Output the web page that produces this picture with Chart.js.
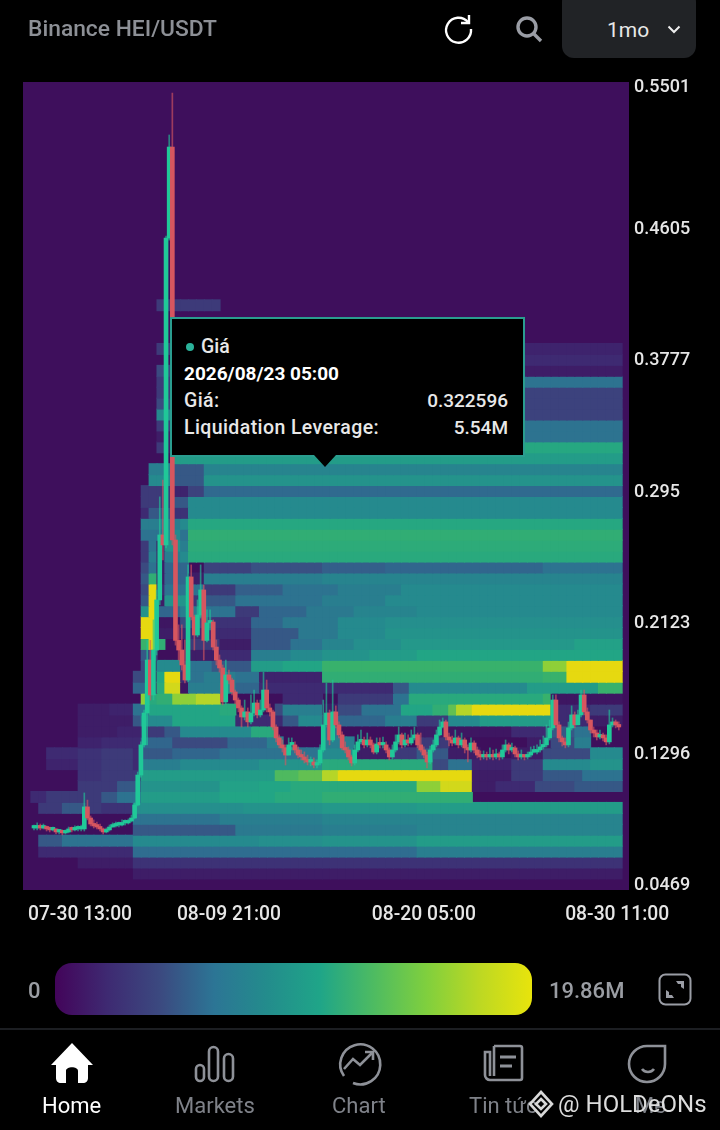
<!DOCTYPE html>
<html><head><meta charset="utf-8">
<script src="https://cdn.jsdelivr.net/npm/chart.js@4"></script>
<style>
html,body{margin:0;padding:0;background:#000;width:720px;height:1130px;overflow:hidden}
body{position:relative;font-family:Roboto,sans-serif}
canvas{position:absolute;left:0;top:0}
.t{position:absolute;white-space:nowrap;line-height:1}
svg{position:absolute;overflow:visible}
#tip{position:absolute;left:170px;top:317px;width:351px;height:136px;background:#000;border:2px solid #2a9d8f}
#tipArrow{position:absolute;left:314px;top:455px;width:0;height:0;border-left:11px solid transparent;border-right:11px solid transparent;border-top:12px solid #000}
</style></head><body>
<canvas id="c" width="720" height="1130"></canvas>

<div class="t" style="left:28px;top:18px;font-size:22.8px;font-weight:500;color:#8d9096">Binance HEI/USDT</div>
<svg style="left:444px;top:14px" width="30" height="30" fill="none" stroke="#fff" stroke-width="2.4"><path d="M24 8a12.5 12.5 0 1 0 3 7"/><path d="M25 1v8h-8"/></svg>
<svg style="left:514px;top:14px" width="30" height="30" fill="none" stroke="#9a9da5" stroke-width="3.4"><circle cx="13" cy="13" r="9"/><path d="M20 20l7 7"/></svg>
<div style="position:absolute;left:562px;top:-10px;width:134px;height:68px;background:#212326;border-radius:12px"></div>
<div class="t" style="left:607px;top:20px;font-size:21px;color:#e8e8e8">1mo</div>
<svg style="left:667px;top:25px" width="14" height="9" fill="none" stroke="#eee" stroke-width="2"><path d="M1.5 1.5L7 7l5.5-5.5"/></svg>

<div id="tip"></div>
<div id="tipArrow"></div>
<div style="position:absolute;left:186px;top:343px;width:8px;height:8px;border-radius:50%;background:#2bb39a"></div>
<div class="t" id="tS" style="left:201px;top:337px;font-size:19.5px;font-weight:500;color:#e8e8e8"></div>
<div class="t" id="tD" style="left:184px;top:364px;font-size:19px;font-weight:700;color:#fff"></div>
<div class="t" id="tL1" style="left:184px;top:391px;font-size:19.5px;letter-spacing:.4px;font-weight:500;color:#e8e8e8"></div>
<div class="t" id="tV1" style="right:212px;top:391px;font-size:19px;font-weight:500;color:#e8e8e8"></div>
<div class="t" id="tL2" style="left:184px;top:418px;font-size:19.5px;letter-spacing:.4px;font-weight:500;color:#e8e8e8"></div>
<div class="t" id="tV2" style="right:212px;top:418px;font-size:19px;font-weight:500;color:#e8e8e8"></div>

<div class="t" id="legMin" style="left:28px;top:980px;font-size:22px;font-weight:500;color:#9a9da3"></div>
<div id="legBar" style="position:absolute;left:55px;top:963px;width:477px;height:52px;border-radius:17px"></div>
<div class="t" id="legMax" style="left:549px;top:980px;font-size:22px;font-weight:500;color:#9a9da3"></div>
<svg style="left:658px;top:973px" width="34" height="33" fill="none" stroke="#9a9da5" stroke-width="2"><rect x="1.5" y="1.5" width="31" height="30" rx="6"/><path d="M18 8h8v8l-3-2v-3h-3zM16 25H8v-8l3 2v3h3z" fill="#9a9da5" stroke="none"/></svg>
<div style="position:absolute;left:0;top:1028px;width:720px;height:2px;background:#1c1e22"></div>

<svg style="left:51px;top:1042px" width="42" height="42"><path d="M21 1L0 23h5v13c0 3 2 5 5 5h5V29c0-5 12-5 12 0v12h5c3 0 5-2 5-5V23h5z" fill="#fff"/></svg>
<svg style="left:194px;top:1046px" width="44" height="38" fill="none" stroke="#8e9198" stroke-width="2.6"><rect x="2" y="19" width="8" height="16" rx="4"/><rect x="15" y="1" width="9" height="34" rx="4.5"/><rect x="30" y="8" width="9" height="27" rx="4.5"/></svg>
<svg style="left:338px;top:1042px" width="44" height="44" fill="none" stroke="#8e9198" stroke-width="2.6"><path d="M6 34a20 20 0 1 1 9 7"/><path d="M6 27l9-10 7 6 12-12"/><path d="M27 10h8v8"/></svg>
<svg style="left:483px;top:1043px" width="44" height="40" fill="none" stroke="#8e9198" stroke-width="2.6"><path d="M11 3h26a2 2 0 0 1 2 2v30a2 2 0 0 1-2 2H7a5 5 0 0 1-5-5V9h5v24"/><path d="M11 3v30"/><path d="M17 14h16M17 23h12" stroke-width="3"/></svg>
<svg style="left:627px;top:1044px" width="42" height="40" fill="none" stroke="#8e9198" stroke-width="2.6"><path d="M38 2H20A18 18 0 1 0 38 20z"/><path d="M15 25c3 4 9 4 12 0"/></svg>

<div class="t" style="left:42px;top:1095px;font-size:22px;color:#fff">Home</div>
<div class="t" style="left:175px;top:1095px;font-size:22px;color:#7f8289">Markets</div>
<div class="t" style="left:332px;top:1095px;font-size:22px;color:#7f8289">Chart</div>
<div class="t" style="left:469px;top:1095px;font-size:22px;color:#7f8289">Tin tức</div>
<div class="t" style="left:635px;top:1095px;font-size:22px;color:#7f8289">Me</div>
<svg style="left:528px;top:1090px" width="26" height="28" fill="none" stroke="#d8d8d8" stroke-width="2.6"><path d="M13 2l11 12-11 12L2 14zM13 9l5 5-5 5-5-5z"/></svg>
<div class="t" style="left:558px;top:1092px;font-size:24px;color:#dcdcdc">@ HOLDeONs</div>

<script>
// colour scale (millions of liquidation leverage)
const scaleMax = 19.86;
const barStops = ['#43045a','#3e2a72','#3b4a80','#2c7595','#238c8c','#1fa588','#4dbb62','#7fcf3e','#bcd823','#e8e40c'];
const heatLevels = [0,2,4,6.5,9,12,15,17,18.5,20];
const heatPalette = ['#3e0f5c','#3e2a72','#3b4a80','#2f6d90','#258a8e','#22a585','#38b16c','#8ecf38','#c8d820','#e6d910'];

// axis labels
const yTicks = [0.5501,0.4605,0.3777,0.295,0.2123,0.1296,0.0469];
const xTickHours = [0,248,496,742];
const xTickLabels = ['07-30 13:00','08-09 21:00','08-20 05:00','08-30 11:00'];

// heat bins
const priceFloor = 0.0425, priceStep = 0.00689;
const colStartHour = -14, colHours = 10.03, colCount = 76;

// liquidation heat: one list per price bin (lowest first); pairs of [start column, value in M]
const heatRows = [
[],
[14,1],
[7,1,14,2.5],
[2,2,14,6.5,50,8],
[2,5,5,7,14,9,30,9.5,38,10,50,11],
[14,5,27,7.5,38,8,50,8.5],
[14,7,25,8,38,8.5],
[2,3,5,5,8,3,10,2.5,14,9.5,28,10,38,10.5,50,11],
[1,2,3,3,10,5,12,7,15,11,25,12,32,13,38,14,57,0],
[7,3,12,5,15,10,25,11.5,30,12,34,13,50,17,53,19,57,1,60,2,65,4,70,5],
[7,2.5,10,3,15,11,32,15.5,35,16,38,18,40,20,57,1,62,3,66,5,71,7],
[3,1.5,7,2.5,10,3,14,2,15,8,20,9,30,10,38,13,52,4,54,7,57,1.5,62,3,66,9,72,10],
[3,2,7,2.5,10,3,14,2,15,5,19,6,25,7,38,9,42,1,47,3,50,5,54,1,58,0,62,1,66,4,72,9],
[7,1.5,10,2,15,6,19,4,26,6,31,8,33,0,38,8,42,0,50,3,54,0,64,1,67,4,70,8,72,0],
[7,1,12,1.5,15,3,18,5,20,9,29,13,32,0,38,7,40,0,50,1,54,0.5,62,2,67,5,70,7,72,0],
[7,1,14,5,15,9,19,12,27,2,33,5,35,9,38,2,40,6,46,8,50,3,54,9,58,11,67,2,72,1],
[7,1,11,1.5,14,7,16,12,25,13,27,0,32,4,33,8,38,1,40,4,43,7,48,12,52,14,54,16,55,18,57,20,67,2,72,3],
[15,17,16,13,17,14,19,17,22,18,25,0,33,2,38,0,40,3,47,7,49,13,66,15,67,0.5],
[14,6,16,1,17,13,18,19,20,0.5,21,8,25,9,27,6,30,2,38,2,47,5,49,9,64,11,73,15],
[14,4,16,0,17,12,18,20,20,2,21,7,23,8,27,7,30,1.5,38,14,66,15,69,20],
[15,4,16,0,17,9,20,3,21,7,24,5,29,11,33,12,38,15,66,17,69,20],
[15,5,16,4,17,0,20,1,25,2,29,8,34,9,38,10,44,11,50,12],
[15,15,16,20,17,14,18,0,21,3,25,1,29,5,34,7,38,8.5,42,9.5,48,10.5,70,11.5],
[15,20,17,1,20,2,25,2,29,5,35,7.5,40,9,46,10],
[15,20,17,0.5,20,4,24,2.5,29,6,33,7.5,40,9,46,9.5],
[15,10,16,20,17,6,20,8,23,7,27,3,30,6,36,7.5,42,8.5,50,9],
[15,5,16,20,17,1,18,10,21,3,23,5,27,7,38,8,46,9],
[15,4,16,20,17,2,18,7,23,3,27,5.5,33,7,40,8,48,9],
[15,5,16,14,17,1,18,6,21,1,23,8,38,8.5],
[15,4,16,7,17,1,18,6,21,0,23,3.5,29,4.5,38,5.5,46,6,66,7],
[15,3,16,8,17,1,18,8,20,9,21,13],
[15,3,16,7,17,0.5,18,10,20,8,21,13.5],
[15,7,18,9,20,7,21,14],
[15,8,20,9,21,12.5],
[15,2,16,5,19,2.5,21,9],
[15,3,19,5,21,9],
[15,3,19,1.5,21,3.5,23,6.3],
[16,9,19,5,23,10],
[16,8,19,5,23,8.5],
[19,11],
[17,3,18,1,19,12.5],
[17,1,19,7],
[17,3,19,7],
[17,9,19,3.5],
[17,4,19,3.5],
[17,3,19,3.5],
[17,3,19,7],
[17,4,19,1],
[19,2],
[17,3,19,1.5],
[],[],[],
[17,3,19,3,25,0]
];

// 4-hour candles
const candleHours = 4;
const firstOpen = 0.0816;
const closes = [
.0816,.0822,.0816,.0822,.0810,.0804,.0810,.0791,.0791,.0785,.0791,.0810,.0804,.0810,.0810,.0810,
.0949,.0879,.0841,.0829,.0822,.0810,.0791,.0804,.0822,.0829,.0835,.0835,.0848,.0848,.0860,.0879,
.0961,.1150,.1340,.1541,.1875,.1655,.1938,.2254,.2664,.2601,.4536,.5110,.2632,.1999,.1938,.1844,
.1749,.2399,.2147,.2033,.2159,.2317,.1999,.2109,.2115,.1957,.1875,.1825,.1611,.1781,.1749,.1674,
.1623,.1573,.1516,.1548,.1485,.1541,.1604,.1529,.1560,.1686,.1573,.1548,.1453,.1384,.1340,.1321,
.1276,.1340,.1340,.1308,.1276,.1264,.1245,.1232,.1232,.1213,.1226,.1308,.1466,.1541,.1371,.1548,
.1466,.1403,.1321,.1308,.1264,.1226,.1308,.1359,.1371,.1340,.1371,.1340,.1295,.1346,.1340,.1340,
.1308,.1264,.1308,.1359,.1403,.1340,.1371,.1352,.1384,.1403,.1340,.1308,.1276,.1232,.1308,.1340,
.1403,.1453,.1485,.1390,.1371,.1352,.1384,.1340,.1371,.1321,.1308,.1352,.1308,.1276,.1264,.1276,
.1264,.1276,.1264,.1283,.1264,.1308,.1340,.1308,.1321,.1283,.1264,.1276,.1264,.1276,.1295,.1295,
.1308,.1327,.1340,.1384,.1447,.1623,.1466,.1384,.1359,.1340,.1447,.1529,.1466,.1529,.1655,.1548,
.1497,.1434,.1415,.1390,.1403,.1384,.1359,.1466,.1485,.1466,.1453];
const highs = [
.0835,.0848,.0841,.0841,.0829,.0822,.0822,.0810,.0804,.0804,.0804,.0822,.0822,.0829,.0829,.0835,
.1037,.0992,.0892,.0867,.0854,.0841,.0816,.0816,.0835,.0848,.0854,.0854,.0867,.0867,.0873,.0898,
.0974,.1169,.1359,.1560,.1999,.1999,.2128,.2317,.2904,.3010,.4549,.5186,.5450,.2664,.2097,.2097,
.2002,.2475,.2475,.2159,.2254,.2475,.2348,.2191,.2191,.2128,.2002,.1907,.1844,.1875,.1812,.1762,
.1686,.1636,.1586,.1623,.1573,.1655,.1686,.1623,.1623,.1799,.1749,.1598,.1560,.1466,.1403,.1371,
.1340,.1384,.1384,.1359,.1327,.1308,.1296,.1276,.1264,.1258,.1245,.1340,.1623,.1730,.1560,.1749,
.1586,.1485,.1422,.1359,.1327,.1276,.1340,.1403,.1434,.1390,.1415,.1390,.1352,.1384,.1384,.1390,
.1359,.1321,.1340,.1403,.1453,.1415,.1415,.1403,.1434,.1453,.1415,.1415,.1327,.1295,.1333,.1371,
.1434,.1497,.1510,.1497,.1415,.1396,.1434,.1396,.1415,.1384,.1340,.1384,.1365,.1327,.1302,.1302,
.1295,.1321,.1308,.1314,.1295,.1340,.1371,.1352,.1352,.1333,.1302,.1308,.1270,.1295,.1327,.1333,
.1340,.1371,.1396,.1466,.1497,.1655,.1655,.1485,.1396,.1384,.1484,.1586,.1548,.1560,.1686,.1686,
.1573,.1497,.1453,.1434,.1434,.1415,.1403,.1560,.1510,.1497,.1485];
const lows = [
.0804,.0804,.0804,.0810,.0797,.0791,.0797,.0778,.0778,.0772,.0778,.0785,.0791,.0797,.0797,.0797,
.0797,.0867,.0829,.0816,.0810,.0797,.0778,.0785,.0797,.0822,.0822,.0822,.0829,.0835,.0841,.0854,
.0873,.0955,.1136,.1327,.1340,.1623,.1623,.1907,.2223,.2506,.2582,.4523,.2601,.1969,.1875,.1812,
.1730,.1737,.2128,.1938,.2021,.2140,.1875,.1989,.2065,.1938,.1844,.1799,.1592,.1598,.1724,.1655,
.1598,.1548,.1453,.1497,.1453,.1472,.1522,.1510,.1516,.1548,.1548,.1522,.1434,.1359,.1321,.1295,
.1213,.1276,.1308,.1289,.1258,.1245,.1226,.1213,.1207,.1195,.1195,.1213,.1295,.1453,.1340,.1359,
.1447,.1384,.1308,.1289,.1245,.1207,.1213,.1295,.1346,.1321,.1327,.1321,.1283,.1283,.1321,.1321,
.1289,.1245,.1251,.1295,.1346,.1321,.1327,.1333,.1340,.1371,.1321,.1295,.1258,.1195,.1220,.1295,
.1327,.1396,.1447,.1371,.1333,.1333,.1340,.1321,.1327,.1289,.1232,.1295,.1289,.1258,.1245,.1251,
.1245,.1251,.1245,.1251,.1245,.1251,.1295,.1283,.1295,.1264,.1245,.1251,.1245,.1251,.1264,.1289,
.1283,.1295,.1314,.1327,.1371,.1434,.1447,.1359,.1333,.1321,.1327,.1434,.1447,.1466,.1516,.1529,
.1478,.1415,.1390,.1371,.1377,.1365,.1340,.1346,.1453,.1447,.1434];

// tooltip text
const tipSeries = 'Giá', tipDate = '2026/08/23 05:00', tipPriceLabel = 'Giá:', tipPrice = '0.322596',
      tipLevLabel = 'Liquidation Leverage:', tipLev = '5.54M';
const legendMin = '0', legendMax = '19.86M';

document.getElementById('tS').textContent = tipSeries;
document.getElementById('tD').textContent = tipDate;
document.getElementById('tL1').textContent = tipPriceLabel;
document.getElementById('tV1').textContent = tipPrice;
document.getElementById('tL2').textContent = tipLevLabel;
document.getElementById('tV2').textContent = tipLev;
document.getElementById('legMin').textContent = legendMin;
document.getElementById('legMax').textContent = legendMax;
document.getElementById('legBar').style.background = 'linear-gradient(90deg,' + barStops.join(',') + ')';

function hexRgb(h){return [1,3,5].map(i=>parseInt(h.substr(i,2),16));}
function colorFor(v){
  let i = 0;
  while (i < heatLevels.length-2 && v > heatLevels[i+1]) i++;
  const f = Math.min(1,(v-heatLevels[i])/(heatLevels[i+1]-heatLevels[i]));
  const a = hexRgb(heatPalette[i]), b = hexRgb(heatPalette[i+1]);
  return 'rgb(' + a.map((c,n)=>Math.round(c+(b[n]-c)*f)).join(',') + ')';
}

const heatData = [], heatColors = [];
heatRows.forEach((row,k)=>{
  for (let p=0;p<row.length;p+=2){
    const end = p+2<row.length ? row[p+2] : colCount;
    if (row[p+1]<=0) continue;
    for (let c=row[p];c<end;c++){
      heatData.push({x:colStartHour+(c+.5)*colHours, y:[priceFloor+k*priceStep, priceFloor+(k+1.03)*priceStep]});
      heatColors.push(colorFor(row[p+1]));
    }
  }
});

const UP='#20c898', DOWN='#d6565f';
const bodies=[], wicks=[], bodyColors=[], wickColors=[];
closes.forEach((c,i)=>{
  const o = i ? closes[i-1] : firstOpen, h = candleHours*i;
  bodies.push({x:h,y:[o,c]}); wicks.push({x:h,y:[lows[i],highs[i]]});
  const col = c>=o ? UP : DOWN;
  bodyColors.push(col); wickColors.push(col+'a0');
});

const plotBg = {
  id:'plotBg',
  beforeDraw(chart){
    const {ctx,chartArea:a} = chart;
    ctx.save(); ctx.fillStyle='#000'; ctx.fillRect(0,0,chart.width,chart.height);
    ctx.fillStyle='#3e0f5c'; ctx.fillRect(a.left,a.top,a.right-a.left,a.bottom-a.top); ctx.restore();
    const xs = chart.scales.x, items = xs.getLabelItems(a);
    items[0].options.translation[0] = xs.getPixelForValue(xTickHours[0]) + 46;
  }
};

new Chart(document.getElementById('c'),{
  type:'bar',
  data:{datasets:[
    {label:'Liquidation Leverage',data:heatData,backgroundColor:heatColors,barThickness:8.3,grouped:false,order:3,borderWidth:0},
    {label:'Wick',data:wicks,backgroundColor:wickColors,barThickness:1,grouped:false,order:2,borderWidth:0},
    {label:'Giá',data:bodies,backgroundColor:bodyColors,barThickness:4,grouped:false,order:1,borderWidth:0,minBarLength:2.5}
  ]},
  options:{
    responsive:false,animation:false,
    layout:{autoPadding:false,padding:{left:23,top:82,right:0,bottom:200}},
    plugins:{legend:{display:false},tooltip:{enabled:false}},
    events:[],
    scales:{
      x:{type:'linear',min:-14,max:757,offset:false,
        grid:{display:false},border:{display:false},
        afterBuildTicks(s){s.ticks=xTickHours.map(v=>({value:v}));},
        afterFit(s){s.height=40;s.paddingLeft=0;s.paddingRight=0;},
        ticks:{autoSkip:false,maxRotation:0,padding:6,color:'#e6e6e6',font:{family:'Roboto',size:19.3,weight:'500'},
          callback(v){return xTickLabels[xTickHours.indexOf(v)];}}
      },
      y:{type:'linear',position:'right',min:0.0425,max:0.5520,
        grid:{display:false,drawTicks:false},border:{display:false},
        afterBuildTicks(s){s.ticks=yTicks.map(v=>({value:v}));},
        afterFit(s){s.width=91;},
        ticks:{autoSkip:false,padding:5,labelOffset:2.5,color:'#e6e6e6',font:{family:'Roboto',size:18,weight:'500'},
          callback(v){return String(v);}}
      }
    }
  },
  plugins:[plotBg]
});
</script>
</body></html>
